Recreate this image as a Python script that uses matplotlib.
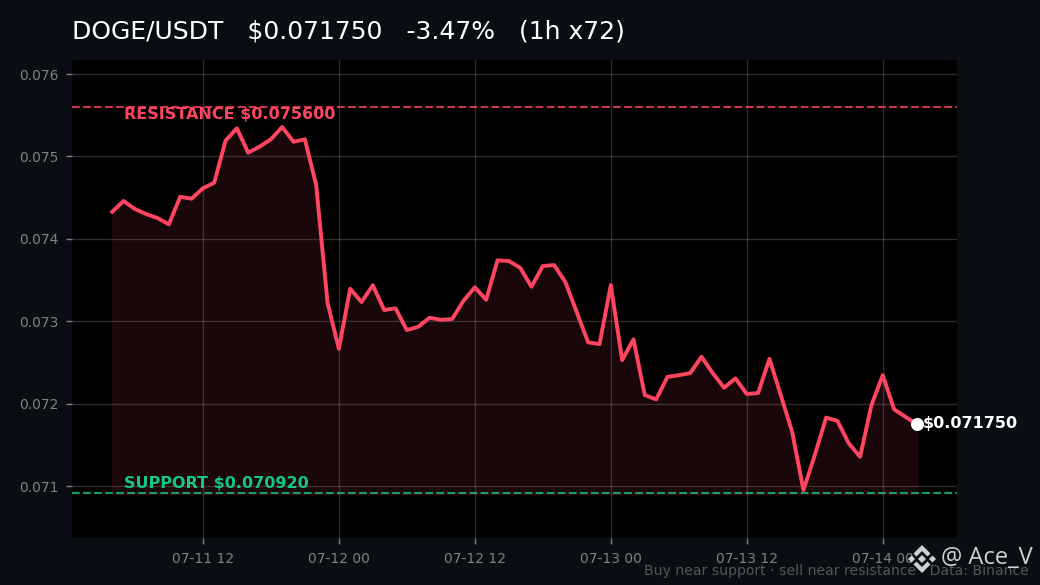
import datetime as dt
import matplotlib
matplotlib.use("Agg")
import matplotlib.pyplot as plt
import matplotlib.dates as mdates
from matplotlib.patches import Polygon
from matplotlib.transforms import IdentityTransform

prices = [
    0.074329, 0.074459, 0.074362, 0.074301, 0.074252, 0.074176, 0.074511, 0.074487,
    0.074613, 0.074681, 0.075191, 0.075341, 0.075045, 0.075118, 0.075208, 0.075357,
    0.075178, 0.075208, 0.074653, 0.073225, 0.072666, 0.073394, 0.073233, 0.073436,
    0.073136, 0.073157, 0.072893, 0.072933, 0.073042, 0.073018, 0.073027, 0.073249,
    0.073411, 0.073261, 0.073739, 0.073731, 0.073649, 0.073419, 0.073670, 0.073682,
    0.073472, 0.073108, 0.072744, 0.072723, 0.073439, 0.072529, 0.072780, 0.072104,
    0.072052, 0.072325, 0.072346, 0.072370, 0.072569, 0.072370, 0.072193, 0.072307,
    0.072117, 0.072129, 0.072545, 0.072104, 0.071659, 0.070951, 0.071376, 0.071831,
    0.071791, 0.071518, 0.071356, 0.071983, 0.072346, 0.071931, 0.071841, 0.071750,
]
start = dt.datetime(2023, 7, 11, 4)
times = [start + dt.timedelta(hours=i) for i in range(len(prices))]
resistance = 0.0756
support = 0.07092
yticks = [0.071, 0.072, 0.073, 0.074, 0.075, 0.076]

BG = "#0a0e12"
RED = "#ff4560"
GREEN = "#16c784"

fig = plt.figure(figsize=(10.4, 5.85), dpi=100, facecolor=BG)
ax = fig.add_axes([72 / 1040, 47 / 585, 885 / 1040, 478 / 585], facecolor="black")

ax.plot(times, prices, color=RED, lw=2.8, zorder=3)
ax.fill_between(times, prices, 0.0709, color=RED, alpha=0.1, zorder=2)
ax.axhline(resistance, color=RED, lw=1.5, ls="--", alpha=0.8, zorder=2)
ax.axhline(support, color=GREEN, lw=1.5, ls="--", alpha=0.8, zorder=2)
ax.scatter(times[-1], prices[-1], s=70, color="white", zorder=5)

ax.annotate(f"RESISTANCE ${resistance:.6f}", (times[1], resistance), xytext=(0, -0.3),
            textcoords="offset points", color=RED, fontsize=11.5, fontweight="bold",
            va="top", zorder=4)
ax.annotate(f"SUPPORT ${support:.6f}", (times[1], support), xytext=(0, 1.5),
            textcoords="offset points", color=GREEN, fontsize=11.5, fontweight="bold",
            va="bottom", zorder=4)
ax.annotate(f"${prices[-1]:.6f}", (times[-1], prices[-1]), xytext=(4.5, 0.3),
            textcoords="offset points", color="white", fontsize=11.5, fontweight="bold",
            va="center", annotation_clip=False, zorder=5)

ax.set_ylim(0.07037, 0.07617)
ax.set_yticks(yticks)
ax.yaxis.set_major_formatter(lambda v, pos: f"{v:.3f}")
ax.xaxis.set_major_locator(mdates.HourLocator(byhour=[0, 12]))
ax.xaxis.set_major_formatter(mdates.DateFormatter("%m-%d %H"))
ax.grid(True, color="white", alpha=0.18, lw=1)
ax.set_axisbelow(True)
ax.tick_params(colors="#808080", labelsize=10, length=4, width=1)
ax.tick_params(axis="x", pad=6)
ax.tick_params(axis="y", pad=5.5)
for s in ax.spines.values():
    s.set_visible(False)

fig.text(72 / 1040, 1 - 31 / 585, "DOGE/USDT   $0.071750   -3.47%   (1h x72)",
         color="white", fontsize=18, va="center", ha="left")
fig.text(1029 / 1040, 1 - 571 / 585, "Buy near support · sell near resistance · Data: Binance",
         color="#555555", fontsize=10.1, va="center", ha="right")

# watermark, logo drawn in pixels
lx, ly = 922, 585 - 559
logo = [
    [(0, 4), (4, 0), (0, -4), (-4, 0)],
    [(-14, 0), (-10.5, 3.5), (-7, 0), (-10.5, -3.5)],
    [(14, 0), (10.5, 3.5), (7, 0), (10.5, -3.5)],
    [(0, 14), (8.5, 5.5), (5.5, 2.5), (0, 8), (-5.5, 2.5), (-8.5, 5.5)],
    [(0, -14), (8.5, -5.5), (5.5, -2.5), (0, -8), (-5.5, -2.5), (-8.5, -5.5)],
]
for shape in logo:
    pts = [(lx + a, ly + b) for a, b in shape]
    fig.add_artist(Polygon(pts, closed=True, transform=IdentityTransform(),
                           facecolor="#e6e6e6", edgecolor="none", alpha=0.9, zorder=10))
fig.text(941 / 1040, 1 - 558 / 585, "@ Ace_V", color="#e6e6e6", alpha=0.9, fontsize=17,
         family="Open Sans", va="center", ha="left", zorder=10)

fig.savefig("out.png", dpi=100, facecolor=BG)
